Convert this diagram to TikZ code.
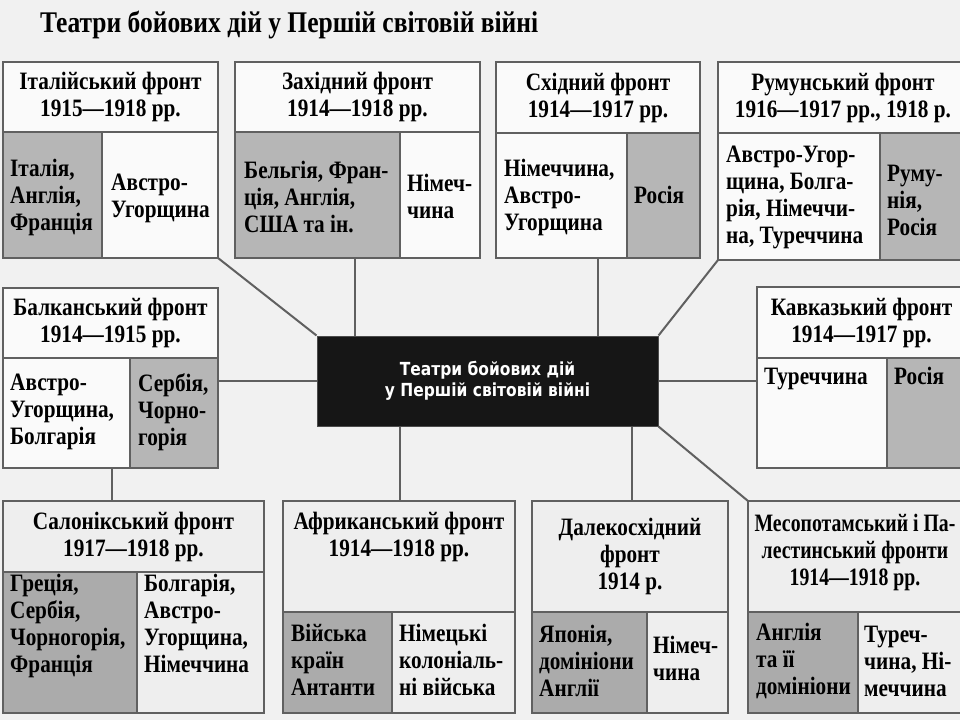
\documentclass[tikz,border=0pt]{standalone}
\usepackage{fontspec}
\setmainfont{Liberation Serif}[FakeStretch=0.85]
\newfontfamily\narrowf{Liberation Serif}[FakeStretch=0.79]
\newfontfamily\cfont{DejaVu Sans}[FakeStretch=0.86]
\usetikzlibrary{calc}
\definecolor{bord}{HTML}{606060}
\definecolor{cgrey}{HTML}{B6B6B6}
\definecolor{cwhite}{HTML}{FAFAFA}
\definecolor{cgreyb}{HTML}{ABABAB}
\definecolor{cwhiteb}{HTML}{EEEEEE}
\definecolor{bgc}{HTML}{F1F1F1}
\definecolor{cblack}{HTML}{161616}
\tikzset{
  frame/.style={draw=bord, line width=2.4pt, inner sep=0pt, outer sep=0pt, anchor=north west},
  hdr/.style={frame, fill=cwhite, font=\bfseries\fontsize{25}{27}\selectfont, align=center},
  hdrb/.style={frame, fill=cwhiteb, font=\bfseries\fontsize{25}{27}\selectfont, align=center},
  gcell/.style={frame, fill=cgrey},
  wcell/.style={frame, fill=cwhite},
  gcellb/.style={frame, fill=cgreyb},
  wcellb/.style={frame, fill=cwhiteb},
  ctext/.style={font=\bfseries\fontsize{25}{27}\selectfont, align=left, inner sep=0pt, anchor=west},
  conn/.style={draw=bord, line width=2pt},
  cbox/.style={fill=cblack, draw=black!70, line width=1pt, inner sep=0pt, text=white,
    font=\cfont\bfseries\fontsize{18}{21.5}\selectfont, align=center},
}
\begin{document}
\begin{tikzpicture}[x=1pt,y=-1pt]
\useasboundingbox (0,0) rectangle (960,720);
\clip (0,0) rectangle (960,720);
\fill[bgc] (0,0) rectangle (960,720);

% title
\node[anchor=base west, inner sep=0pt, font=\bfseries\fontsize{30}{32}\selectfont] (title) at (40,32) {Театри бойових дій у Першій світовій війні};

% Italian front
\node[hdr, minimum width=215pt, minimum height=70pt] (itH) at (3,62) {Італійський фронт\\1915—1918 рр.};
\node[gcell, minimum width=99pt, minimum height=126pt] (itL) at (3,132) {};
\node[wcell, minimum width=116pt, minimum height=126pt] (itR) at (102,132) {};
\node[ctext] (itLt) at (10,197) {Італія,\\Англія,\\Франція};
\node[ctext] (itRt) at (111,198) {Австро-\\Угорщина};

% Western front
\node[hdr, minimum width=245pt, minimum height=70pt] (wH) at (235,62) {Західний фронт\\1914—1918 рр.};
\node[gcell, minimum width=165pt, minimum height=126pt] (wL) at (235,132) {};
\node[wcell, minimum width=80pt, minimum height=126pt] (wR) at (400,132) {};
\node[ctext] (wLt) at (244,197) {Бельгія, Фран-\\ція, Англія,\\США та ін.};
\node[ctext] (wRt) at (407,196) {Німеч-\\чина};

% Eastern front
\node[hdr, minimum width=204pt, minimum height=71pt] (eH) at (496,62) {Східний фронт\\1914—1917 рр.};
\node[wcell, minimum width=131pt, minimum height=125pt] (eL) at (496,133) {};
\node[gcell, minimum width=73pt, minimum height=125pt] (eR) at (627,133) {};
\node[ctext] (eLt) at (504,197) {Німеччина,\\Австро-\\Угорщина};
\node[ctext] (eRt) at (634,195) {Росія};

% Romanian front
\node[hdr, minimum width=250pt, minimum height=71pt] (roH) at (718,62) {Румунський фронт\\1916—1917 рр., 1918 р.};
\node[wcell, minimum width=162pt, minimum height=127pt] (roL) at (718,133) {};
\node[gcell, minimum width=88pt, minimum height=127pt] (roR) at (880,133) {};
\node[ctext] (roLt) at (726,197) {Австро-Угор-\\щина, Болга-\\рія, Німеччи-\\на, Туреччина};
\node[ctext] (roRt) at (887,200) {Руму-\\нія,\\Росія};

% Balkan front
\node[hdr, minimum width=215pt, minimum height=70pt] (bkH) at (3,288) {Балканський фронт\\1914—1915 рр.};
\node[wcell, minimum width=127pt, minimum height=110pt] (bkL) at (3,358) {};
\node[gcell, minimum width=88pt, minimum height=110pt] (bkR) at (130,358) {};
\node[ctext] (bkLt) at (10,412) {Австро-\\Угорщина,\\Болгарія};
\node[ctext] (bkRt) at (138,412) {Сербія,\\Чорно-\\горія};

% Caucasus front
\node[hdr, minimum width=209pt, minimum height=71pt] (kvH) at (757,287) {Кавказький фронт\\1914—1917 рр.};
\node[wcell, minimum width=130pt, minimum height=110pt] (kvL) at (757,358) {};
\node[gcell, minimum width=79pt, minimum height=110pt] (kvR) at (887,358) {};
\node[ctext, anchor=base west] (kvLt) at (764,384) {Туреччина};
\node[ctext, anchor=base west] (kvRt) at (894,384) {Росія};

% central box
\node[cbox, minimum width=341pt, minimum height=90pt] (ctr) at (487.5,381) {Театри бойових дій\\у Першій світовій війні};

% Salonika front
\node[hdrb, minimum width=261pt, minimum height=71pt] (slH) at (3,501) {Салонікський фронт\\1917—1918 рр.};
\node[gcellb, minimum width=134pt, minimum height=141pt] (slL) at (3,572) {};
\node[wcellb, minimum width=127pt, minimum height=141pt] (slR) at (137,572) {};
\node[ctext, anchor=north west] (slLt) at (10,574) {Греція,\\Сербія,\\Чорногорія,\\Франція};
\node[ctext, anchor=north west] (slRt) at (144,574) {Болгарія,\\Австро-\\Угорщина,\\Німеччина};

% African front
\node[hdrb, minimum width=232pt, minimum height=111pt] (afH) at (283,501) {};
\node[ctext, anchor=north, align=center] (afHt) at (399,512) {Африканський фронт\\1914—1918 рр.};
\node[gcellb, minimum width=109pt, minimum height=101pt] (afL) at (283,612) {};
\node[wcellb, minimum width=123pt, minimum height=101pt] (afR) at (392,612) {};
\node[ctext] (afLt) at (291,660) {Війська\\країн\\Антанти};
\node[ctext] (afRt) at (399,660) {Німецькі\\колоніаль-\\ні війська};

% Far Eastern front
\node[hdrb, minimum width=196pt, minimum height=111pt] (feH) at (532,501) {Далекосхідний\\фронт\\1914 р.};
\node[gcellb, minimum width=115pt, minimum height=101pt] (feL) at (532,612) {};
\node[wcellb, minimum width=81pt, minimum height=101pt] (feR) at (647,612) {};
\node[ctext] (feLt) at (539,661) {Японія,\\домініони\\Англії};
\node[ctext] (feRt) at (653,658) {Німеч-\\чина};

% Mesopotamian and Palestinian fronts
\node[hdrb, minimum width=218pt, minimum height=111pt] (msH) at (748,501) {};
\node[ctext, anchor=center, align=center, font=\narrowf\bfseries\fontsize{25}{27}\selectfont] (msHt) at (855,552) {Месопотамський і Па-\\лестинський фронти\\1914—1918 рр.};
\node[gcellb, minimum width=110pt, minimum height=101pt] (msL) at (748,612) {};
\node[wcellb, minimum width=108pt, minimum height=101pt] (msR) at (858,612) {};
\node[ctext] (msLt) at (756,661) {Англія\\та її\\домініони};
\node[ctext] (msRt) at (864,661) {Туреч-\\чина, Ні-\\меччина};

% connectors
\coordinate (cw) at ($(ctr.north west)+(38,0)$);
\coordinate (ce) at ($(ctr.north west)+(281,0)$);
\coordinate (cb1) at ($(ctr.south west)+(83,0)$);
\coordinate (cb2) at ($(ctr.south west)+(315,0)$);
\coordinate (bk1) at ($(bkL.south west)+(109,0)$);
\draw[conn] (itR.south east) -- (ctr.north west);
\draw[conn] (cw) -- (cw |- wL.south);
\draw[conn] (ce) -- (ce |- eL.south);
\draw[conn] (roL.south west) -- (ctr.north east);
\draw[conn] (ctr.west) -- (ctr.west -| bkR.east);
\draw[conn] (ctr.east) -- (ctr.east -| kvL.west);
\draw[conn] (bk1) -- (bk1 |- slH.north);
\draw[conn] (cb1) -- (cb1 |- afH.north);
\draw[conn] (cb2) -- (cb2 |- feH.north);
\draw[conn] (ctr.south east) -- (msH.north west);
\end{tikzpicture}
\end{document}
